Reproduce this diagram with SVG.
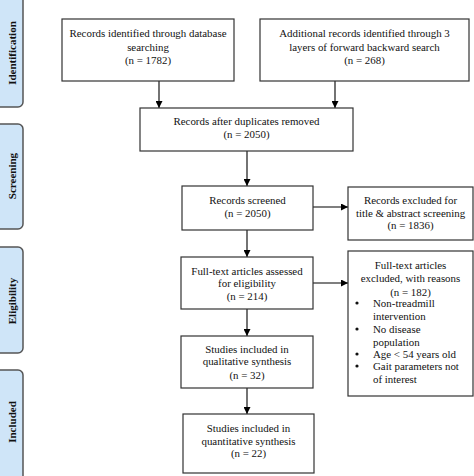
<svg xmlns="http://www.w3.org/2000/svg" width="474" height="476" viewBox="0 0 474 476">
<defs>
<marker id="ah" viewBox="0 0 10 10" refX="10" refY="5" markerWidth="7" markerHeight="7" markerUnits="userSpaceOnUse" orient="auto">
<path d="M0,0 L10,5 L0,10 z" fill="#000"/>
</marker>
</defs>
<style>
.box{fill:#fff;stroke:#333;stroke-width:1.2}
.side{fill:#cfe5f8;stroke:#555;stroke-width:1.5}
.t{font-family:"Liberation Serif","Times New Roman",serif;font-size:10.9px;fill:#111;text-anchor:middle}
.tl{font-family:"Liberation Serif","Times New Roman",serif;font-size:10.9px;fill:#111}
.st{font-family:"Liberation Serif","Times New Roman",serif;font-size:11px;font-weight:bold;fill:#111;text-anchor:middle}
.c{stroke:#000;stroke-width:1.1;fill:none;marker-end:url(#ah)}
</style>
<g id="side-identification"><rect class="side" x="-6" y="-6" width="29" height="113" rx="5"/><text class="st" transform="translate(16,53) rotate(-90)">Identification</text></g>
<g id="side-screening"><rect class="side" x="-6" y="124" width="29" height="105" rx="5"/><text class="st" transform="translate(16,176) rotate(-90)">Screening</text></g>
<g id="side-eligibility"><rect class="side" x="-6" y="247" width="29" height="106" rx="5"/><text class="st" transform="translate(16,301) rotate(-90)">Eligibility</text></g>
<g id="side-included"><rect class="side" x="-6" y="370" width="29" height="112" rx="5"/><text class="st" transform="translate(16,422) rotate(-90)">Included</text></g>

<g id="connectors">
<line class="c" x1="159" y1="81" x2="159" y2="108"/>
<line class="c" x1="335" y1="81" x2="335" y2="108"/>
<line class="c" x1="247" y1="151" x2="247" y2="186"/>
<line class="c" x1="313" y1="207" x2="348" y2="207"/>
<line class="c" x1="247" y1="230" x2="247" y2="257"/>
<line class="c" x1="313" y1="283" x2="348" y2="283"/>
<line class="c" x1="247" y1="309" x2="247" y2="336"/>
<line class="c" x1="247" y1="388" x2="247" y2="414"/>
</g>

<g id="n1"><rect class="box" x="62" y="19" width="172" height="62"/>
<text class="t" x="148" y="37">Records identified through database</text>
<text class="t" x="148" y="51">searching</text>
<text class="t" x="148" y="64">(n = 1782)</text></g>

<g id="n2"><rect class="box" x="260" y="19" width="209" height="62"/>
<text class="t" x="364.5" y="37">Additional records identified through 3</text>
<text class="t" x="364.5" y="51">layers of forward backward search</text>
<text class="t" x="364.5" y="64">(n = 268)</text></g>

<g id="n3"><rect class="box" x="140" y="108" width="213" height="43"/>
<text class="t" x="246.5" y="125">Records after duplicates removed</text>
<text class="t" x="246.5" y="138">(n = 2050)</text></g>

<g id="n4"><rect class="box" x="182" y="186" width="131" height="44"/>
<text class="t" x="247.5" y="204">Records screened</text>
<text class="t" x="247.5" y="217">(n = 2050)</text></g>

<g id="n5"><rect class="box" x="348" y="187" width="125" height="53"/>
<text class="t" x="410.5" y="204">Records excluded for</text>
<text class="t" x="410.5" y="217">title &amp; abstract screening</text>
<text class="t" x="410.5" y="229">(n = 1836)</text></g>

<g id="n6"><rect class="box" x="181" y="257" width="132" height="52"/>
<text class="t" x="247" y="275">Full-text articles assessed</text>
<text class="t" x="247" y="287">for eligibility</text>
<text class="t" x="247" y="300">(n = 214)</text></g>

<g id="n7"><rect class="box" x="348" y="251" width="125" height="145"/>
<text class="t" x="410.5" y="269">Full-text articles</text>
<text class="t" x="410.5" y="282">excluded, with reasons</text>
<text class="t" x="410.5" y="296">(n = 182)</text>
<circle cx="357" cy="303" r="1.6" fill="#111"/>
<text class="tl" x="373" y="307">Non-treadmill</text>
<text class="tl" x="373" y="320">intervention</text>
<circle cx="357" cy="329" r="1.6" fill="#111"/>
<text class="tl" x="373" y="333">No disease</text>
<text class="tl" x="373" y="346">population</text>
<circle cx="357" cy="354" r="1.6" fill="#111"/>
<text class="tl" x="373" y="358">Age &lt; 54 years old</text>
<circle cx="357" cy="366" r="1.6" fill="#111"/>
<text class="tl" x="373" y="370">Gait parameters not</text>
<text class="tl" x="373" y="383">of interest</text></g>

<g id="n8"><rect class="box" x="181" y="336" width="132" height="52"/>
<text class="t" x="247" y="353">Studies included in</text>
<text class="t" x="247" y="365">qualitative synthesis</text>
<text class="t" x="247" y="379">(n = 32)</text></g>

<g id="n9"><rect class="box" x="183" y="414" width="131" height="59"/>
<text class="t" x="248.5" y="432">Studies included in</text>
<text class="t" x="248.5" y="445">quantitative synthesis</text>
<text class="t" x="248.5" y="457">(n = 22)</text></g>
</svg>
